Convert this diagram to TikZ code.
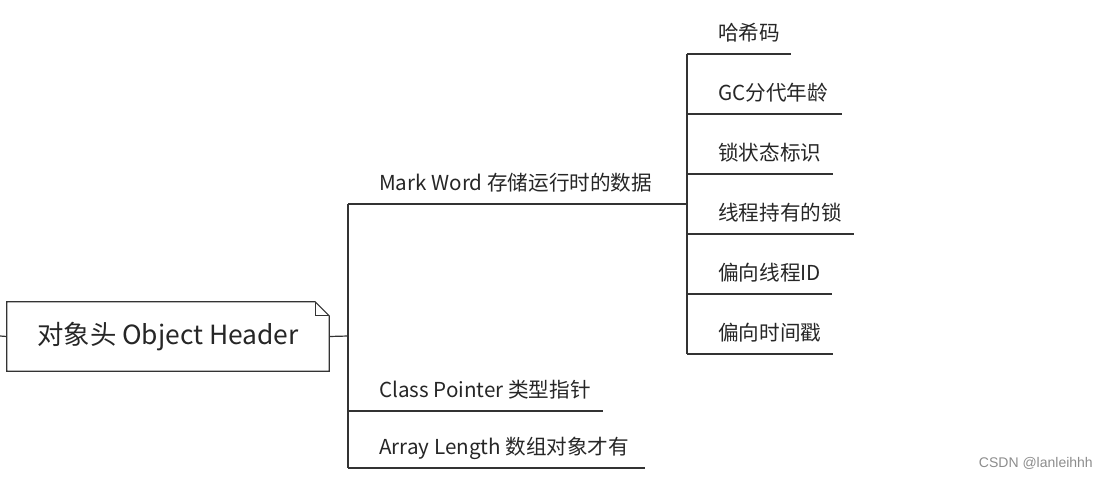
\documentclass[tikz,border=0pt]{standalone}
\usepackage{fontspec}
\setmainfont{Noto Sans CJK SC}
\newfontfamily\wmfont{Liberation Sans}
\usetikzlibrary{positioning}

\begin{document}
\begin{tikzpicture}[x=1pt,y=-1pt,
    ln/.style={draw=black!80,line width=1.2pt},
    lbl/.style={anchor=base west,inner sep=0pt,font=\fontsize{20.6}{24}\selectfont,text=black!85}]
    \useasboundingbox (0,0) rectangle (1107,477);
    % root box with folded corner
    \node[minimum width=322pt,minimum height=69pt,inner sep=0pt,text=black!85,
          font=\fontsize{26.4}{30}\selectfont] (root) at (168,336.5) {对象头 Object Header};
    \draw[ln] (root.north west) -- ([xshift=-14pt]root.north east)
        -- ([yshift=-14pt]root.north east) -- (root.south east) -- (root.south west) -- cycle;
    \draw[ln] ([xshift=-14pt]root.north east) -- ([xshift=-14pt,yshift=-14pt]root.north east)
        -- ([yshift=-14pt]root.north east);
    \coordinate (hub) at (348,336);
    \draw[ln] (0,336) -- (root.west);
    \draw[ln] (root.east) -- (hub);
    \draw[ln] (348,204) -- (348,468);
    % first level
    \node[lbl] (mark) at (379,190) {Mark Word 存储运行时的数据};
    \draw[ln] (348,204) -- (687,204);
    \node[lbl] (klass) at (379,397) {Class Pointer 类型指针};
    \draw[ln] (348,411) -- (603,411);
    \node[lbl] (alen) at (379,454) {Array Length 数组对象才有};
    \draw[ln] (348,468) -- (645,468);
    % mark word contents
    \draw[ln] (687,54) -- (687,354);
    \foreach \y/\e/\t [count=\i] in {54/791/哈希码, 114/842/GC分代年龄, 174/833/锁状态标识,
                                    234/854/线程持有的锁, 294/832/偏向线程ID, 354/833/偏向时间戳} {
        \node[lbl] (mw\i) at (718,\y-14) {\t};
        \draw[ln] (687,\y) -- (\e,\y);
    }
    \node[anchor=base east,inner sep=0pt,font=\wmfont\fontsize{14}{16}\selectfont,
          text=black!45] (wm) at (1093,467) {CSDN @lanleihhh};
\end{tikzpicture}
\end{document}
